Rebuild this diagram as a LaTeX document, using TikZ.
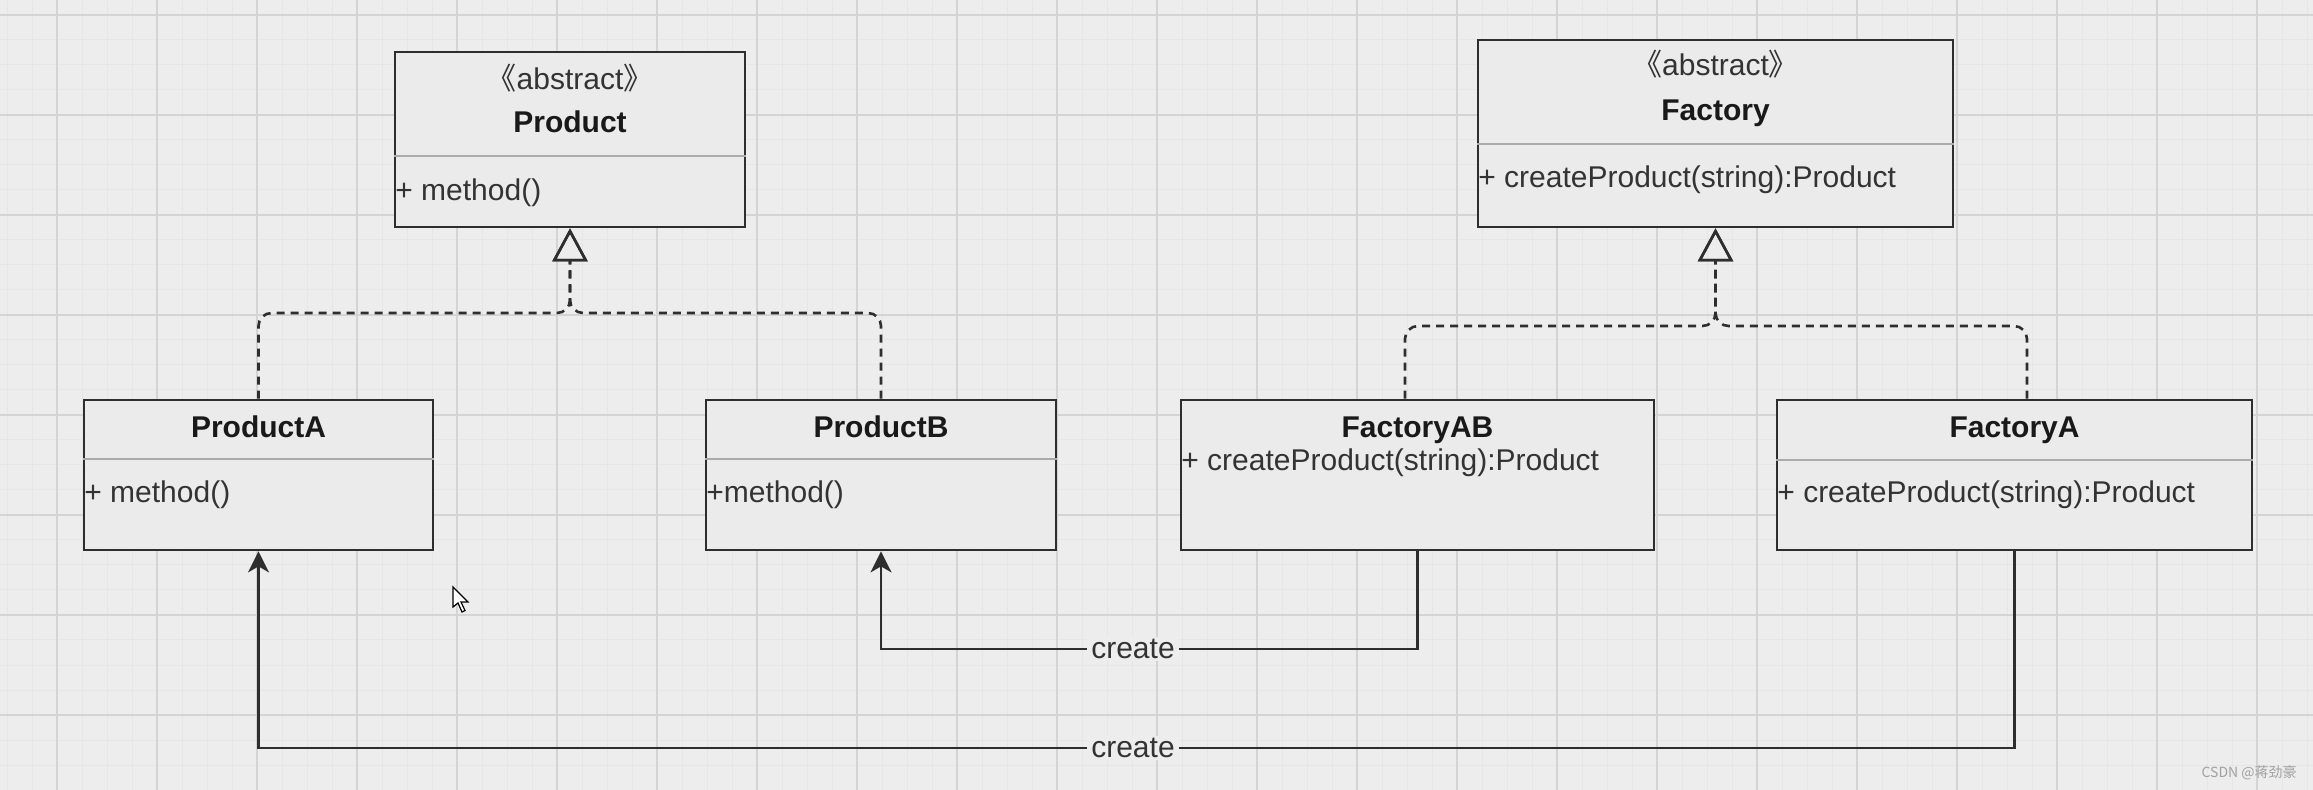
\documentclass[tikz,border=0pt]{standalone}
\usepackage{fontspec}
\setmainfont{Liberation Sans}
\newfontfamily\cjk{Noto Sans CJK SC}
\usetikzlibrary{arrows.meta}
\definecolor{bg}{HTML}{EDEDED}
\definecolor{boxfill}{HTML}{EBEBEB}
\definecolor{majorc}{HTML}{D4D4D4}
\definecolor{minorc}{HTML}{E6E6E6}
\definecolor{ink}{HTML}{2E2E2E}
\definecolor{divc}{HTML}{ABABAB}
\definecolor{txt}{HTML}{333333}
\definecolor{wmc}{HTML}{A0A0A0}
\begin{document}
\begin{tikzpicture}[x=0.5pt,y=-0.5pt,
 cls/.style={draw=ink, line width=1.4pt, fill=boxfill, rectangle, inner sep=0pt},
 divider/.style={draw=divc, line width=1pt},
 ster/.style={font=\fontsize{15pt}{18pt}\selectfont, text=txt, inner sep=0pt, anchor=base},
 ttl/.style={font=\fontsize{15pt}{18pt}\selectfont\bfseries, text=black!90, inner sep=0pt, anchor=base},
 meth/.style={font=\fontsize{15pt}{18pt}\selectfont, text=txt, inner sep=0pt, anchor=base west},
 realize/.style={draw=ink, line width=1.3pt, dash pattern=on 4pt off 3pt, rounded corners=6.5pt, -{Triangle[open, length=16.5pt, width=17.5pt]}},
 assoc/.style={draw=ink, line width=1.3pt, -{Stealth[length=10.5pt, width=10.5pt, inset=3pt]}},
 lbl/.style={font=\fontsize{15pt}{18pt}\selectfont, text=txt, fill=bg, inner xsep=2pt, inner ysep=1pt},
 minorline/.style={draw=minorc, line width=0.5pt},
 majorline/.style={draw=majorc, line width=0.75pt},
 cursorshape/.style={fill=white, draw=black, line width=0.6pt, line join=miter},
]
\useasboundingbox (0,0) rectangle (2313,790);
\fill[bg] (0,0) rectangle (2313,790);
% grid
\foreach \x in {7,32,...,2313} {\draw[minorline] (\x,0) -- (\x,790);}
\foreach \y in {15,40,...,790} {\draw[minorline] (0,\y) -- (2313,\y);}
\foreach \x in {57,157,...,2313} {\draw[majorline] (\x,0) -- (\x,790);}
\foreach \y in {15,115,...,790} {\draw[majorline] (0,\y) -- (2313,\y);}

% Product
\node[cls, minimum width=175pt, minimum height=87.5pt] (p) at (570,139.5) {};
\draw[divider] ([yshift=-52.5pt]p.north west) -- ([yshift=-52.5pt]p.north east);
\node[ster] (pst) at (570,90) {{\cjk 《}abstract{\cjk 》}};
\node[ttl] (pt) at (570,133) {Product};
\node[meth] (pm) at (395,201) {+ method()};

% Factory
\node[cls, minimum width=237.5pt, minimum height=93.5pt] (f) at (1715.5,133.5) {};
\draw[divider] ([yshift=-52.5pt]f.north west) -- ([yshift=-52.5pt]f.north east);
\node[ster] (fst) at (1715.5,76) {{\cjk 《}abstract{\cjk 》}};
\node[ttl] (ft) at (1715.5,121) {Factory};
\node[meth] (fm) at (1478,188) {+ createProduct(string):Product};

% ProductA
\node[cls, minimum width=174.5pt, minimum height=75pt] (pa) at (258.5,475) {};
\draw[divider] ([yshift=-30pt]pa.north west) -- ([yshift=-30pt]pa.north east);
\node[ttl] (pat) at (258.5,438) {ProductA};
\node[meth] (pam) at (84,503) {+ method()};

% ProductB
\node[cls, minimum width=175pt, minimum height=75pt] (pb) at (881,475) {};
\draw[divider] ([yshift=-30pt]pb.north west) -- ([yshift=-30pt]pb.north east);
\node[ttl] (pbt) at (881,438) {ProductB};
\node[meth] (pbm) at (706,503) {+method()};

% FactoryAB
\node[cls, minimum width=236.5pt, minimum height=75pt] (fab) at (1417.5,475) {};
\node[ttl] (fabt) at (1417.5,438) {FactoryAB};
\node[meth] (fabm) at (1181,471) {+ createProduct(string):Product};

% FactoryA
\node[cls, minimum width=237.5pt, minimum height=75pt] (fa) at (2014.5,475) {};
\draw[divider] ([yshift=-30.5pt]fa.north west) -- ([yshift=-30.5pt]fa.north east);
\node[ttl] (fat) at (2014.5,438) {FactoryA};
\node[meth] (fam) at (1777,503) {+ createProduct(string):Product};

% realization connectors
\coordinate (j1) at (570,313);
\coordinate (j2) at (1715.5,326);
\draw[realize] (pa.north) |- (j1) -- (p.south);
\draw[realize] (pb.north) |- (j1) -- (p.south);
\draw[realize] ([xshift=-6.25pt]fab.north) |- (j2) -- (f.south);
\draw[realize] ([xshift=6.25pt]fa.north) |- (j2) -- (f.south);

% create connectors
\coordinate (c1) at (1133,649);
\coordinate (c2) at (1133,748);
\draw[assoc] (fab.south) |- (c1) -| (pb.south);
\draw[assoc] (fa.south) |- (c2) -| (pa.south);
\node[lbl] (l1) at (c1) {create};
\node[lbl] (l2) at (c2) {create};

% mouse cursor
\draw[cursorshape, shift={(453,587)}] (0,0) -- (0,20) -- (5,16) -- (9,25) -- (12,23.5) -- (8,15) -- (15,15) -- cycle;

% watermark
\node[font=\cjk\fontsize{7pt}{8pt}\selectfont, text=wmc, anchor=base east, inner sep=0pt] (wm) at (2297,777) {CSDN @蒋劲豪};
\end{tikzpicture}
\end{document}
